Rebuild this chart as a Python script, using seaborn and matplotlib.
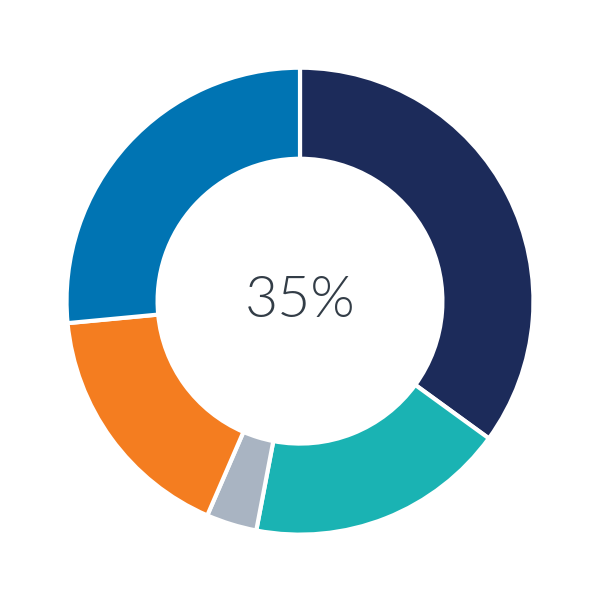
import matplotlib
matplotlib.use("Agg")
import matplotlib.pyplot as plt
import seaborn as sns

# donut: share of each segment, clockwise from top
segments = ["Navy", "Teal", "Gray", "Orange", "Blue"]
shares = [35, 18, 3.5, 17, 26.5]
colors = ["#1c2b5a", "#1ab3b3", "#a9b4c2", "#f47d20", "#0074b3"]
center_label = "35%"

sns.set_theme(style="white")
sns.set_palette(colors)

fig = plt.figure(figsize=(6, 6), dpi=100)
ax = fig.add_axes([0, 0, 1, 1])
ax.pie(shares, colors=sns.color_palette(), startangle=90, counterclock=False,
       radius=1, wedgeprops=dict(width=0.39, edgecolor="white", linewidth=3))
ax.text(0, 0.0, center_label, ha="center", va="center", fontsize=41,
        family=["Lato", "DejaVu Sans"], fontweight=300, color="#333d47")
ax.set_xlim(-1.285, 1.285)
ax.set_ylim(-1.28, 1.29)
ax.set_aspect("equal")
ax.axis("off")

plt.savefig("out.png", dpi=100, facecolor="white")
